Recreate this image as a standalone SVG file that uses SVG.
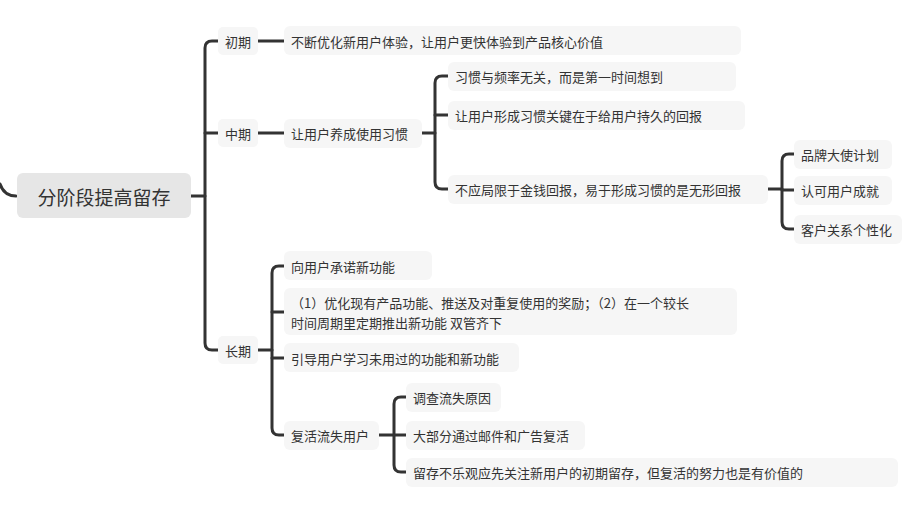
<svg xmlns="http://www.w3.org/2000/svg" width="913" height="514" viewBox="0 0 913 514">
<style>
.n{fill:#f6f6f6}
.r{fill:#e6e6e6}
text{font-family:"Noto Sans CJK SC","Liberation Sans",sans-serif;font-size:13px;fill:#333;dominant-baseline:central}
.c path{fill:none;stroke:#333;stroke-width:3;stroke-linecap:round}
</style>
<rect width="913" height="514" fill="#fff"/>
<g class="c" id="connectors">
<path d="M0 184 Q4 196 16 196"/>
<path d="M191 196 H205"/>
<path d="M218 41 H212 Q205 41 205 48 V343 Q205 350 212 350 H218"/>
<path d="M205 133 Q205 133 212 133 H218"/>
<path d="M258 41 H284"/>
<path d="M258 133 H284"/>
<path d="M422 133 H435"/>
<path d="M448 76 H442 Q435 76 435 83 V182 Q435 189 442 189 H448"/>
<path d="M435 115 H448"/>
<path d="M768 189 H782"/>
<path d="M794 154 H789 Q782 154 782 161 V222 Q782 229 789 229 H794"/>
<path d="M782 190 H794"/>
<path d="M258 350 H272"/>
<path d="M284 266 H279 Q272 266 272 273 V428 Q272 435 279 435 H284"/>
<path d="M272 312 H284"/>
<path d="M272 358 H284"/>
<path d="M379 435 H394"/>
<path d="M406 397 H401 Q394 397 394 404 V465 Q394 472 401 472 H406"/>
<path d="M394 435 H406"/>
</g>
<g id="root"><rect class="r" x="17" y="173" width="174" height="45" rx="6"/><text x="104" y="196" text-anchor="middle" style="font-size:19px">分阶段提高留存</text></g>
<g id="chuqi"><rect class="n" x="218" y="27" width="40" height="28" rx="5"/><text x="238" y="41" text-anchor="middle">初期</text></g>
<g id="zhongqi"><rect class="n" x="218" y="119" width="40" height="28" rx="5"/><text x="238" y="133" text-anchor="middle">中期</text></g>
<g id="changqi"><rect class="n" x="218" y="336" width="40" height="28" rx="5"/><text x="238" y="350" text-anchor="middle">长期</text></g>
<g id="n1"><rect class="n" x="284" y="26" width="457" height="29" rx="6"/><text x="291" y="41">不断优化新用户体验，让用户更快体验到产品核心价值</text></g>
<g id="n2"><rect class="n" x="284" y="119" width="138" height="29" rx="6"/><text x="291" y="133">让用户养成使用习惯</text></g>
<g id="n21"><rect class="n" x="448" y="62" width="288" height="29" rx="6"/><text x="455" y="76">习惯与频率无关，而是第一时间想到</text></g>
<g id="n22"><rect class="n" x="448" y="101" width="297" height="29" rx="6"/><text x="455" y="115">让用户形成习惯关键在于给用户持久的回报</text></g>
<g id="n23"><rect class="n" x="448" y="175" width="320" height="29" rx="6"/><text x="455" y="189">不应局限于金钱回报，易于形成习惯的是无形回报</text></g>
<g id="n231"><rect class="n" x="794" y="140" width="98" height="29" rx="6"/><text x="801" y="154">品牌大使计划</text></g>
<g id="n232"><rect class="n" x="794" y="176" width="98" height="29" rx="6"/><text x="801" y="190">认可用户成就</text></g>
<g id="n233"><rect class="n" x="794" y="215" width="108" height="29" rx="6"/><text x="801" y="229">客户关系个性化</text></g>
<g id="n31"><rect class="n" x="284" y="251" width="148" height="29" rx="6"/><text x="291" y="266">向用户承诺新功能</text></g>
<g id="n32"><rect class="n" x="284" y="288" width="453" height="47" rx="6"/><text x="291" y="302">（1）优化现有产品功能、推送及对重复使用的奖励；（2）在一个较长</text><text x="291" y="322">时间周期里定期推出新功能 双管齐下</text></g>
<g id="n33"><rect class="n" x="284" y="343" width="235" height="29" rx="6"/><text x="291" y="358">引导用户学习未用过的功能和新功能</text></g>
<g id="n34"><rect class="n" x="284" y="421" width="95" height="29" rx="6"/><text x="291" y="435">复活流失用户</text></g>
<g id="n341"><rect class="n" x="406" y="383" width="95" height="29" rx="6"/><text x="413" y="397">调查流失原因</text></g>
<g id="n342"><rect class="n" x="406" y="421" width="179" height="29" rx="6"/><text x="413" y="435">大部分通过邮件和广告复活</text></g>
<g id="n343"><rect class="n" x="406" y="458" width="492" height="29" rx="6"/><text x="413" y="472">留存不乐观应先关注新用户的初期留存，但复活的努力也是有价值的</text></g>
</svg>
